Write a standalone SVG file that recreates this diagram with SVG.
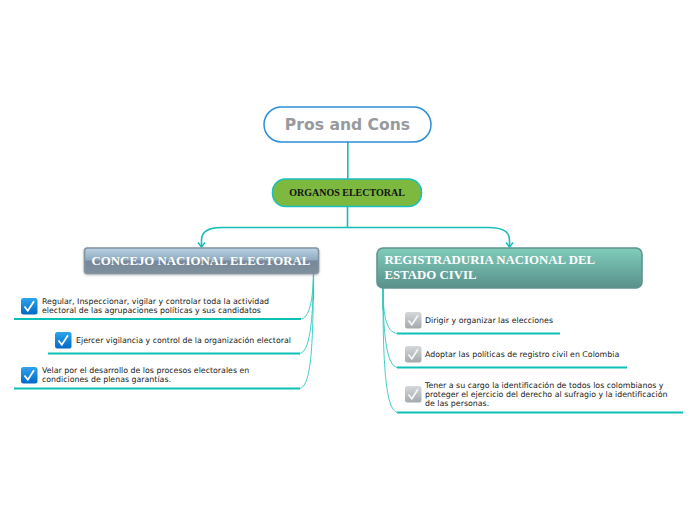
<svg xmlns="http://www.w3.org/2000/svg" width="696" height="520" viewBox="0 0 696 520">
<defs>
<linearGradient id="blue" x1="0" y1="0" x2="0" y2="1"><stop offset="0" stop-color="#2fa4ec"/><stop offset="1" stop-color="#0069c8"/></linearGradient>
<linearGradient id="gray" x1="0" y1="0" x2="0" y2="1"><stop offset="0" stop-color="#d6d8da"/><stop offset="1" stop-color="#a4a9ad"/></linearGradient>
<linearGradient id="concejo" x1="0" y1="0" x2="0" y2="1"><stop offset="0" stop-color="#b9d2e6"/><stop offset="0.48" stop-color="#8fa9bd"/><stop offset="0.5" stop-color="#76889a"/><stop offset="1" stop-color="#7f8f9c"/></linearGradient>
<linearGradient id="regis" x1="0" y1="0" x2="0" y2="1"><stop offset="0" stop-color="#80cdbc"/><stop offset="1" stop-color="#58908a"/></linearGradient>
<filter id="sh" x="-5%" y="-20%" width="110%" height="140%"><feDropShadow dx="0" dy="1" stdDeviation="1" flood-color="#555" flood-opacity="0.4"/></filter>
<marker id="arrow" markerWidth="10" markerHeight="8" refX="5" refY="7" orient="0" markerUnits="userSpaceOnUse" viewBox="0 0 10 8"><path d="M1.500 2.500L5 7L8.500 2.500" fill="none" stroke="#14bdb8" stroke-width="1.400"/></marker>
<g id="chk-blue"><rect x="0" y="0" width="16.500" height="16.500" rx="2.500" fill="url(#blue)"/><path d="M3.500 8.500L6.800 12.800L13 3.200" fill="none" stroke="#fff" stroke-width="1.800"/></g>
<g id="chk-gray"><rect x="0" y="0" width="16.500" height="16.500" rx="2.500" fill="url(#gray)"/><path d="M3.500 8.500L6.800 12.800L13 3.200" fill="none" stroke="#f4f5f5" stroke-width="1.800"/></g>
</defs>
<style>
.l{fill:none;stroke:#14bdb8;stroke-width:1.600}
.t{fill:none;stroke:#2cc9c0;stroke-width:0.900}
.u{fill:none;stroke:#0cc0b8;stroke-width:2}
.s{font-family:"DejaVu Sans",sans-serif;font-size:7.850px;fill:#222}
.h{font-family:"Liberation Serif",serif;font-weight:bold;fill:#fff;font-size:12.850px}
</style>
<rect width="696" height="520" fill="#fff"/>
<g id="connectors">
<path class="l" d="M347.800 142V179"/>
<path class="l" d="M347.500 207V227.500"/>
<path class="l" d="M347.500 227.500H222C207 227.500 201.500 232 201.500 240V247" marker-end="url(#arrow)"/>
<path class="l" d="M347.500 227.500H488C504 227.500 509.500 232 509.500 240V247" marker-end="url(#arrow)"/>
<path class="l" d="M313.500 274V300" style="stroke-width:1.200"/>
<path class="t" d="M313.500 274C313 298 310 319 300 319"/>
<path class="t" d="M313.500 274C313 320 310 353.500 299 353.500"/>
<path class="t" d="M313.500 274C313 340 312 388 299 388.500"/>
<path class="u" d="M14 319H301"/>
<path class="u" d="M48 353.500H300"/>
<path class="u" d="M14 388.500H300"/>
<path class="l" d="M383 288V310" style="stroke-width:1.200"/>
<path class="t" d="M383 288C383 310 385 333.500 398 333.500"/>
<path class="t" d="M383 288C383 330 386 367.500 398 367.500"/>
<path class="t" d="M383 288C383 350 384 412 398 412.500"/>
<path class="u" d="M397 333.500H560"/>
<path class="u" d="M397 367.500H627"/>
<path class="u" d="M397 412.500H683"/>
</g>
<g id="root"><rect x="264" y="107" width="167" height="35" rx="17.500" fill="#fff" stroke="#2b8fd8" stroke-width="1.500"/><text x="347.500" y="130" text-anchor="middle" font-family="'DejaVu Sans',sans-serif" font-weight="bold" font-size="15.600" fill="#979a9c">Pros and Cons</text></g>
<g id="organos"><rect x="272.500" y="179" width="149" height="27.500" rx="13" fill="#7cb93e" stroke="#18c0c0" stroke-width="1.500"/><text x="347" y="196" text-anchor="middle" font-family="'Liberation Serif',serif" font-weight="bold" font-size="10" fill="#111">ORGANOS ELECTORAL</text></g>
<g id="concejo-node"><rect x="84.500" y="248" width="234" height="25.500" rx="3" fill="url(#concejo)" stroke="#8593a1" stroke-width="1.600" filter="url(#sh)"/><text class="h" x="201" y="264.500" text-anchor="middle">CONCEJO NACIONAL ELECTORAL</text></g>
<g id="registraduria-node"><rect x="377" y="248" width="265" height="40" rx="6" fill="url(#regis)" stroke="#5f948e" stroke-width="1.600"/><text class="h" x="384.500" y="264">REGISTRADURIA NACIONAL DEL</text><text class="h" x="384.500" y="279">ESTADO CIVIL</text></g>
<g id="c1"><use href="#chk-blue" x="21" y="298"/><text class="s" x="42" y="304">Regular, Inspeccionar, vigilar y controlar toda la actividad</text><text class="s" x="42" y="313">electoral de las agrupaciones políticas y sus candidatos</text></g>
<g id="c2"><use href="#chk-blue" x="55" y="332"/><text class="s" x="76" y="343">Ejercer vigilancia y control de la organización electoral</text></g>
<g id="c3"><use href="#chk-blue" x="21" y="367"/><text class="s" x="42" y="373">Velar por el desarrollo de los procesos electorales en</text><text class="s" x="42" y="382">condiciones de plenas garantías.</text></g>
<g id="r1"><use href="#chk-gray" x="405" y="312"/><text class="s" x="425" y="323">Dirigir y organizar las elecciones</text></g>
<g id="r2"><use href="#chk-gray" x="405" y="346"/><text class="s" x="425" y="357">Adoptar las políticas de registro civil en Colombia</text></g>
<g id="r3"><use href="#chk-gray" x="405" y="386"/><text class="s" x="425" y="388">Tener a su cargo la identificación de todos los colombianos y</text><text class="s" x="425" y="397">proteger el ejercicio del derecho al sufragio y la identificación</text><text class="s" x="425" y="406">de las personas.</text></g>
</svg>
